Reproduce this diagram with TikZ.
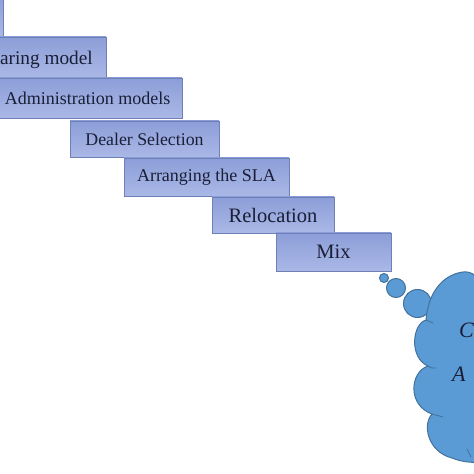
\documentclass[tikz,border=0pt]{standalone}
\usepackage{fontspec}
\setmainfont{Liberation Serif}
\definecolor{boxtop}{HTML}{8C9ED8}
\definecolor{boxbot}{HTML}{AAB8E6}
\definecolor{boxline}{HTML}{6F80B6}
\definecolor{cloudfill}{HTML}{5B9BD5}
\definecolor{cloudline}{HTML}{41719C}
\definecolor{inktext}{HTML}{1A1E36}
\begin{document}
\begin{tikzpicture}[x=1pt,y=1pt,
  stepbox/.style={draw=boxline, line width=0.8pt, top color=boxtop, bottom color=boxbot,
    inner sep=0pt, text=inktext},
  bubble/.style={circle, draw=cloudline, fill=cloudfill, line width=1pt, inner sep=0pt},
  cloudtext/.style={text=inktext, font=\fontsize{22}{24}\selectfont\itshape, inner sep=0pt}]
\useasboundingbox (0,0) rectangle (474,474);
\clip (0,0) rectangle (474,474);
\fill[white] (0,0) rectangle (474,474);
% steps
\node[stepbox, minimum width=103pt, minimum height=43pt] (b0) at (-48.5,458.5) {};
\node[stepbox, minimum width=166pt, minimum height=41pt] (b1) at (23,416.5) {};
\node[text=inktext, inner sep=0pt, anchor=east, font=\fontsize{19.3}{22}\selectfont] (t1) at (93,414.5) {aring model};
\node[stepbox, minimum width=189pt, minimum height=40pt, font=\fontsize{18}{20}\selectfont] (b2) at (87.5,376) {Administration models};
\node[stepbox, minimum width=149pt, minimum height=36pt, font=\fontsize{17.8}{20}\selectfont] (b3) at (144.5,335) {Dealer Selection};
\node[stepbox, minimum width=165pt, minimum height=38pt, font=\fontsize{18}{20}\selectfont] (b4) at (206.5,297) {Arranging the SLA};
\node[stepbox, minimum width=122pt, minimum height=36pt, font=\fontsize{20.5}{22}\selectfont] (b5) at (273,259) {Relocation};
\node[stepbox, minimum width=115pt, minimum height=38pt, font=\fontsize{20.5}{22}\selectfont] (b6) at (333.5,222) {Mix};
% thought bubbles
\node[bubble, minimum size=9pt] (s1) at (384,196) {};
\node[bubble, minimum size=19pt] (s2) at (396,186) {};
\node[bubble, minimum size=28pt] (s3) at (417.5,170.5) {};
% cloud
\draw[fill=cloudfill, draw=cloudline, line width=1pt]
  (482,184) .. controls (478,202) and (468,204) .. (458,201)
  .. controls (440,196) and (428,179) .. (426,154)
  .. controls (412,150) and (409,116) .. (428,108)
  .. controls (410,102) and (407,69) .. (432,60)
  .. controls (422,49) and (428,22) .. (452,16)
  .. controls (462,12) and (472,11) .. (482,12) -- cycle;
\draw[cloudline, line width=0.8pt] (426,154) .. controls (429,152) .. (433,151);
\draw[cloudline, line width=0.8pt] (428,108) .. controls (431,106) .. (436,106);
\draw[cloudline, line width=0.8pt] (432,60) .. controls (437,58) .. (443,57);
\draw[cloudline, line width=0.8pt] (467,25) .. controls (469,21) .. (471,17);
\node[cloudtext, anchor=west] (c1) at (459,144) {C};
\node[cloudtext, anchor=west] (c2) at (452,100) {A};
\end{tikzpicture}
\end{document}
